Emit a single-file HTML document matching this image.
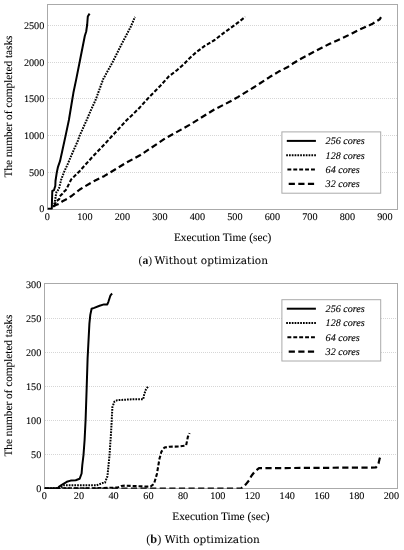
<!DOCTYPE html>
<html><head><meta charset="utf-8"><style>
html,body{margin:0;padding:0;background:#fff;}
body{width:404px;height:550px;overflow:hidden;}
svg{display:block;text-rendering:geometricPrecision;}
.grid{stroke:#d6d6d6;stroke-width:1;stroke-dasharray:1 1;fill:none;}
.frame{fill:none;stroke:#aaaaaa;stroke-width:1;}
.leg{fill:#fff;stroke:#aaaaaa;stroke-width:1;}
.c{fill:none;stroke:#000;stroke-linejoin:round;}
.tk{font-family:"Liberation Serif",serif;font-size:10.2px;fill:#000;stroke:#000;stroke-width:0.08px;}
.lab{font-family:"Liberation Serif",serif;font-size:11.4px;fill:#000;stroke:#000;stroke-width:0.08px;}
.lg{font-family:"Liberation Serif",serif;font-size:10.1px;font-style:italic;fill:#000;stroke:#000;stroke-width:0.1px;}
.cap{font-family:"DejaVu Serif",serif;font-size:10.55px;fill:#000;stroke:#000;stroke-width:0.06px;}
.capb{font-family:"Liberation Serif",serif;font-size:11.6px;font-weight:bold;fill:#111;}
</style></head><body>
<svg width="404" height="550" viewBox="0 0 404 550">
<line x1="48" y1="172.5" x2="397" y2="172.5" class="grid"/>
<line x1="48" y1="135.5" x2="397" y2="135.5" class="grid"/>
<line x1="48" y1="98.5" x2="397" y2="98.5" class="grid"/>
<line x1="48" y1="62.5" x2="397" y2="62.5" class="grid"/>
<line x1="48" y1="25.5" x2="397" y2="25.5" class="grid"/>
<rect x="47.5" y="4.5" width="350.0" height="205.0" class="frame"/>
<clipPath id="clip4"><rect x="47.5" y="4.5" width="350.0" height="205.2"/></clipPath>
<g clip-path="url(#clip4)">
<polyline points="53,206.5 55.9,205 58.9,203.8 63,200.9 67.2,198.8 71.1,196.3 79.8,189.5 92.1,182.1 104.5,175.9 126.8,162.4 140,155.3 164.8,138.7 189.5,124.9 214.3,109.5 230,101.6 237.8,97.1 254.8,86.7 270,76.8 278.7,71.6 287.3,67.3 292.5,63.8 299.5,59.5 307.5,55.3 314.9,51.2 322.3,47.5 329.7,43.8 337.2,40.4 344.6,37.1 352,33.4 359.4,29.7 372,24.1 379.8,19.2 381,17.1" class="c" stroke-width="2.2" stroke-dasharray="6.2 3.4"/>
<polyline points="54.5,206 55.9,201.4 59.2,199.1 59.4,196.7 62.4,193.7 63.6,191.9 65.7,190.2 66.9,188.1 71.1,179.6 79.8,170.9 92.1,157.3 104.5,144.3 111.8,136.3 126.8,120 132.9,114.4 139.8,107.4 149.7,96.5 159.6,86.6 168.5,76.7 177.4,69.8 183.4,64.6 189.3,58.5 196,52.4 204.7,45.9 214.6,40 224.5,32.4 234.4,25.3 245.3,16.9" class="c" stroke-width="2.1" stroke-dasharray="3.9 2.0"/>
<polyline points="53.5,207 54.4,203.8 55,200.3 55.6,197.3 55.9,194.9 56.5,191.9 58,190.2 59.2,187.8 61.2,179.6 64.3,171.5 67.4,164.8 72,154 77.9,140.6 79.5,136 86.7,120 91.4,109 95.6,100 103.2,79.1 112.3,62.7 121.4,44.5 130.5,27.3 135,16.9" class="c" stroke-width="2.0" stroke-dasharray="1.7 1.1"/>
<polyline points="47.5,208.7 51.8,208.7 52,200.3 52.3,191 54,190.2 54.7,187.8 55.3,186 55.5,181 56.8,172.4 58,166.8 60,161.2 62.2,151.2 65.6,135.6 68.9,120 72.2,100 73.4,92.8 76.2,79.4 80,60.3 84.8,36 86.2,31.5 87.2,24.5 87.8,16.5 89.6,13.6" class="c" stroke-width="2.0"/>
</g>
<text x="44.3" y="212.3" class="tk" text-anchor="end">0</text>
<text x="44.3" y="175.6" class="tk" text-anchor="end">500</text>
<text x="44.3" y="139.0" class="tk" text-anchor="end">1000</text>
<text x="44.3" y="102.3" class="tk" text-anchor="end">1500</text>
<text x="44.3" y="65.7" class="tk" text-anchor="end">2000</text>
<text x="44.3" y="29.0" class="tk" text-anchor="end">2500</text>
<text x="47.4" y="219.7" class="tk" text-anchor="middle">0</text>
<text x="84.9" y="219.7" class="tk" text-anchor="middle">100</text>
<text x="122.4" y="219.7" class="tk" text-anchor="middle">200</text>
<text x="159.9" y="219.7" class="tk" text-anchor="middle">300</text>
<text x="197.4" y="219.7" class="tk" text-anchor="middle">400</text>
<text x="234.9" y="219.7" class="tk" text-anchor="middle">500</text>
<text x="272.4" y="219.7" class="tk" text-anchor="middle">600</text>
<text x="309.9" y="219.7" class="tk" text-anchor="middle">700</text>
<text x="347.4" y="219.7" class="tk" text-anchor="middle">800</text>
<text x="384.9" y="219.7" class="tk" text-anchor="middle">900</text>
<text x="222.6" y="240.8" class="lab" text-anchor="middle">Execution Time (sec)</text>
<text transform="translate(12.0,106.5) rotate(-90)" class="lab" style="font-size:11.25px" text-anchor="middle">The number of completed tasks</text>
<rect x="281.9" y="131.9" width="98.8" height="61.3" class="leg"/>
<line x1="286.8" y1="140.9" x2="315.9" y2="140.9" class="c" stroke-width="2.0"/>
<text x="325.6" y="144.3" class="lg">256 cores</text>
<line x1="286.2" y1="155.2" x2="316.8" y2="155.2" class="c" stroke-width="2.0" stroke-dasharray="1.7 1.1"/>
<text x="325.6" y="158.6" class="lg">128 cores</text>
<line x1="287.4" y1="169.5" x2="315.9" y2="169.5" class="c" stroke-width="2.1" stroke-dasharray="3.9 2.0"/>
<text x="325.6" y="172.9" class="lg">64 cores</text>
<line x1="288.7" y1="183.8" x2="314.2" y2="183.8" class="c" stroke-width="2.2" stroke-dasharray="6.2 3.4"/>
<text x="325.6" y="187.2" class="lg">32 cores</text>
<line x1="45" y1="454.5" x2="397" y2="454.5" class="grid"/>
<line x1="45" y1="420.5" x2="397" y2="420.5" class="grid"/>
<line x1="45" y1="386.5" x2="397" y2="386.5" class="grid"/>
<line x1="45" y1="352.5" x2="397" y2="352.5" class="grid"/>
<line x1="45" y1="318.5" x2="397" y2="318.5" class="grid"/>
<rect x="44.5" y="283.5" width="353.0" height="205.0" class="frame"/>
<clipPath id="clip283"><rect x="44.5" y="283.5" width="353.0" height="205.2"/></clipPath>
<g clip-path="url(#clip283)">
<polyline points="44.5,488.5 241.1,488.5 245.6,484.6 249.3,480.1 251.5,475.7 254.5,471.9 259,468.2 376,467.5 378.5,463.5 379.5,459.2 380.7,455.5" class="c" stroke-width="2.2" stroke-dasharray="6.2 3.4"/>
<polyline points="44.5,488.5 95.5,488.2 117.3,487.6 121.2,486 124.8,485.6 147,486.6 150.7,486.3 154,483.9 156.9,474 159.4,459.1 161.4,451.7 164.4,447.5 169.3,446.7 179.2,446.5 186.1,445.5 187.9,436.8 189.6,433.1" class="c" stroke-width="2.1" stroke-dasharray="3.9 2.0"/>
<polyline points="44.5,488.5 59.8,488.2 63.8,485.3 96.5,485.3 100,484 102.4,483.1 105,482.6 107.4,476.4 109.4,456.6 111.1,431.9 112.4,407.1 114.4,401.7 117.3,400.2 124.8,399.7 134.7,399.2 143.3,399.2 144.1,394.8 145.8,389.8 148.3,386.1" class="c" stroke-width="2.0" stroke-dasharray="1.7 1.1"/>
<polyline points="44.5,488.5 57.9,488.5 58.9,486.9 61.8,484.8 66.8,481.8 70.7,480.6 75.7,480.2 79.6,478.8 81.6,473.5 82.3,465 83.5,455 84.6,440 85.6,419.7 86.6,390 87.6,358.5 89.4,323.6 90.3,314.9 91.6,308.8 94.2,307.9 99.6,305.7 104,304.4 107.3,304.4 108.4,301.8 110.5,295.3 112.1,293.5" class="c" stroke-width="2.0"/>
</g>
<text x="41.3" y="492.1" class="tk" text-anchor="end">0</text>
<text x="41.3" y="458.0" class="tk" text-anchor="end">50</text>
<text x="41.3" y="423.9" class="tk" text-anchor="end">100</text>
<text x="41.3" y="389.8" class="tk" text-anchor="end">150</text>
<text x="41.3" y="355.8" class="tk" text-anchor="end">200</text>
<text x="41.3" y="321.7" class="tk" text-anchor="end">250</text>
<text x="41.3" y="287.6" class="tk" text-anchor="end">300</text>
<text x="44.2" y="499.2" class="tk" text-anchor="middle">0</text>
<text x="78.9" y="499.2" class="tk" text-anchor="middle">20</text>
<text x="113.6" y="499.2" class="tk" text-anchor="middle">40</text>
<text x="148.4" y="499.2" class="tk" text-anchor="middle">60</text>
<text x="183.1" y="499.2" class="tk" text-anchor="middle">80</text>
<text x="217.8" y="499.2" class="tk" text-anchor="middle">100</text>
<text x="252.5" y="499.2" class="tk" text-anchor="middle">120</text>
<text x="287.2" y="499.2" class="tk" text-anchor="middle">140</text>
<text x="322.0" y="499.2" class="tk" text-anchor="middle">160</text>
<text x="356.7" y="499.2" class="tk" text-anchor="middle">180</text>
<text x="391.4" y="499.2" class="tk" text-anchor="middle">200</text>
<text x="220.9" y="519.7" class="lab" text-anchor="middle">Execution Time (sec)</text>
<text transform="translate(12.0,385.6) rotate(-90)" class="lab" style="font-size:11.25px" text-anchor="middle">The number of completed tasks</text>
<rect x="281.9" y="299.7" width="98.8" height="61.3" class="leg"/>
<line x1="286.8" y1="308.7" x2="315.9" y2="308.7" class="c" stroke-width="2.0"/>
<text x="325.6" y="312.1" class="lg">256 cores</text>
<line x1="286.2" y1="323.0" x2="316.8" y2="323.0" class="c" stroke-width="2.0" stroke-dasharray="1.7 1.1"/>
<text x="325.6" y="326.4" class="lg">128 cores</text>
<line x1="287.4" y1="337.3" x2="315.9" y2="337.3" class="c" stroke-width="2.1" stroke-dasharray="3.9 2.0"/>
<text x="325.6" y="340.7" class="lg">64 cores</text>
<line x1="288.7" y1="351.6" x2="314.2" y2="351.6" class="c" stroke-width="2.2" stroke-dasharray="6.2 3.4"/>
<text x="325.6" y="355.0" class="lg">32 cores</text>
<text x="138.6" y="263.9" class="capb"><tspan font-weight="normal">(</tspan>a<tspan font-weight="normal">)</tspan></text><text x="154.6" y="263.9" class="cap" textLength="113.4" lengthAdjust="spacing">Without optimization</text>
<text x="146.2" y="543.3" class="capb" style="font-size:12.3px"><tspan font-weight="normal">(</tspan>b<tspan font-weight="normal">)</tspan></text><text x="164.8" y="543.3" class="cap">With optimization</text>
</svg>
</body></html>
